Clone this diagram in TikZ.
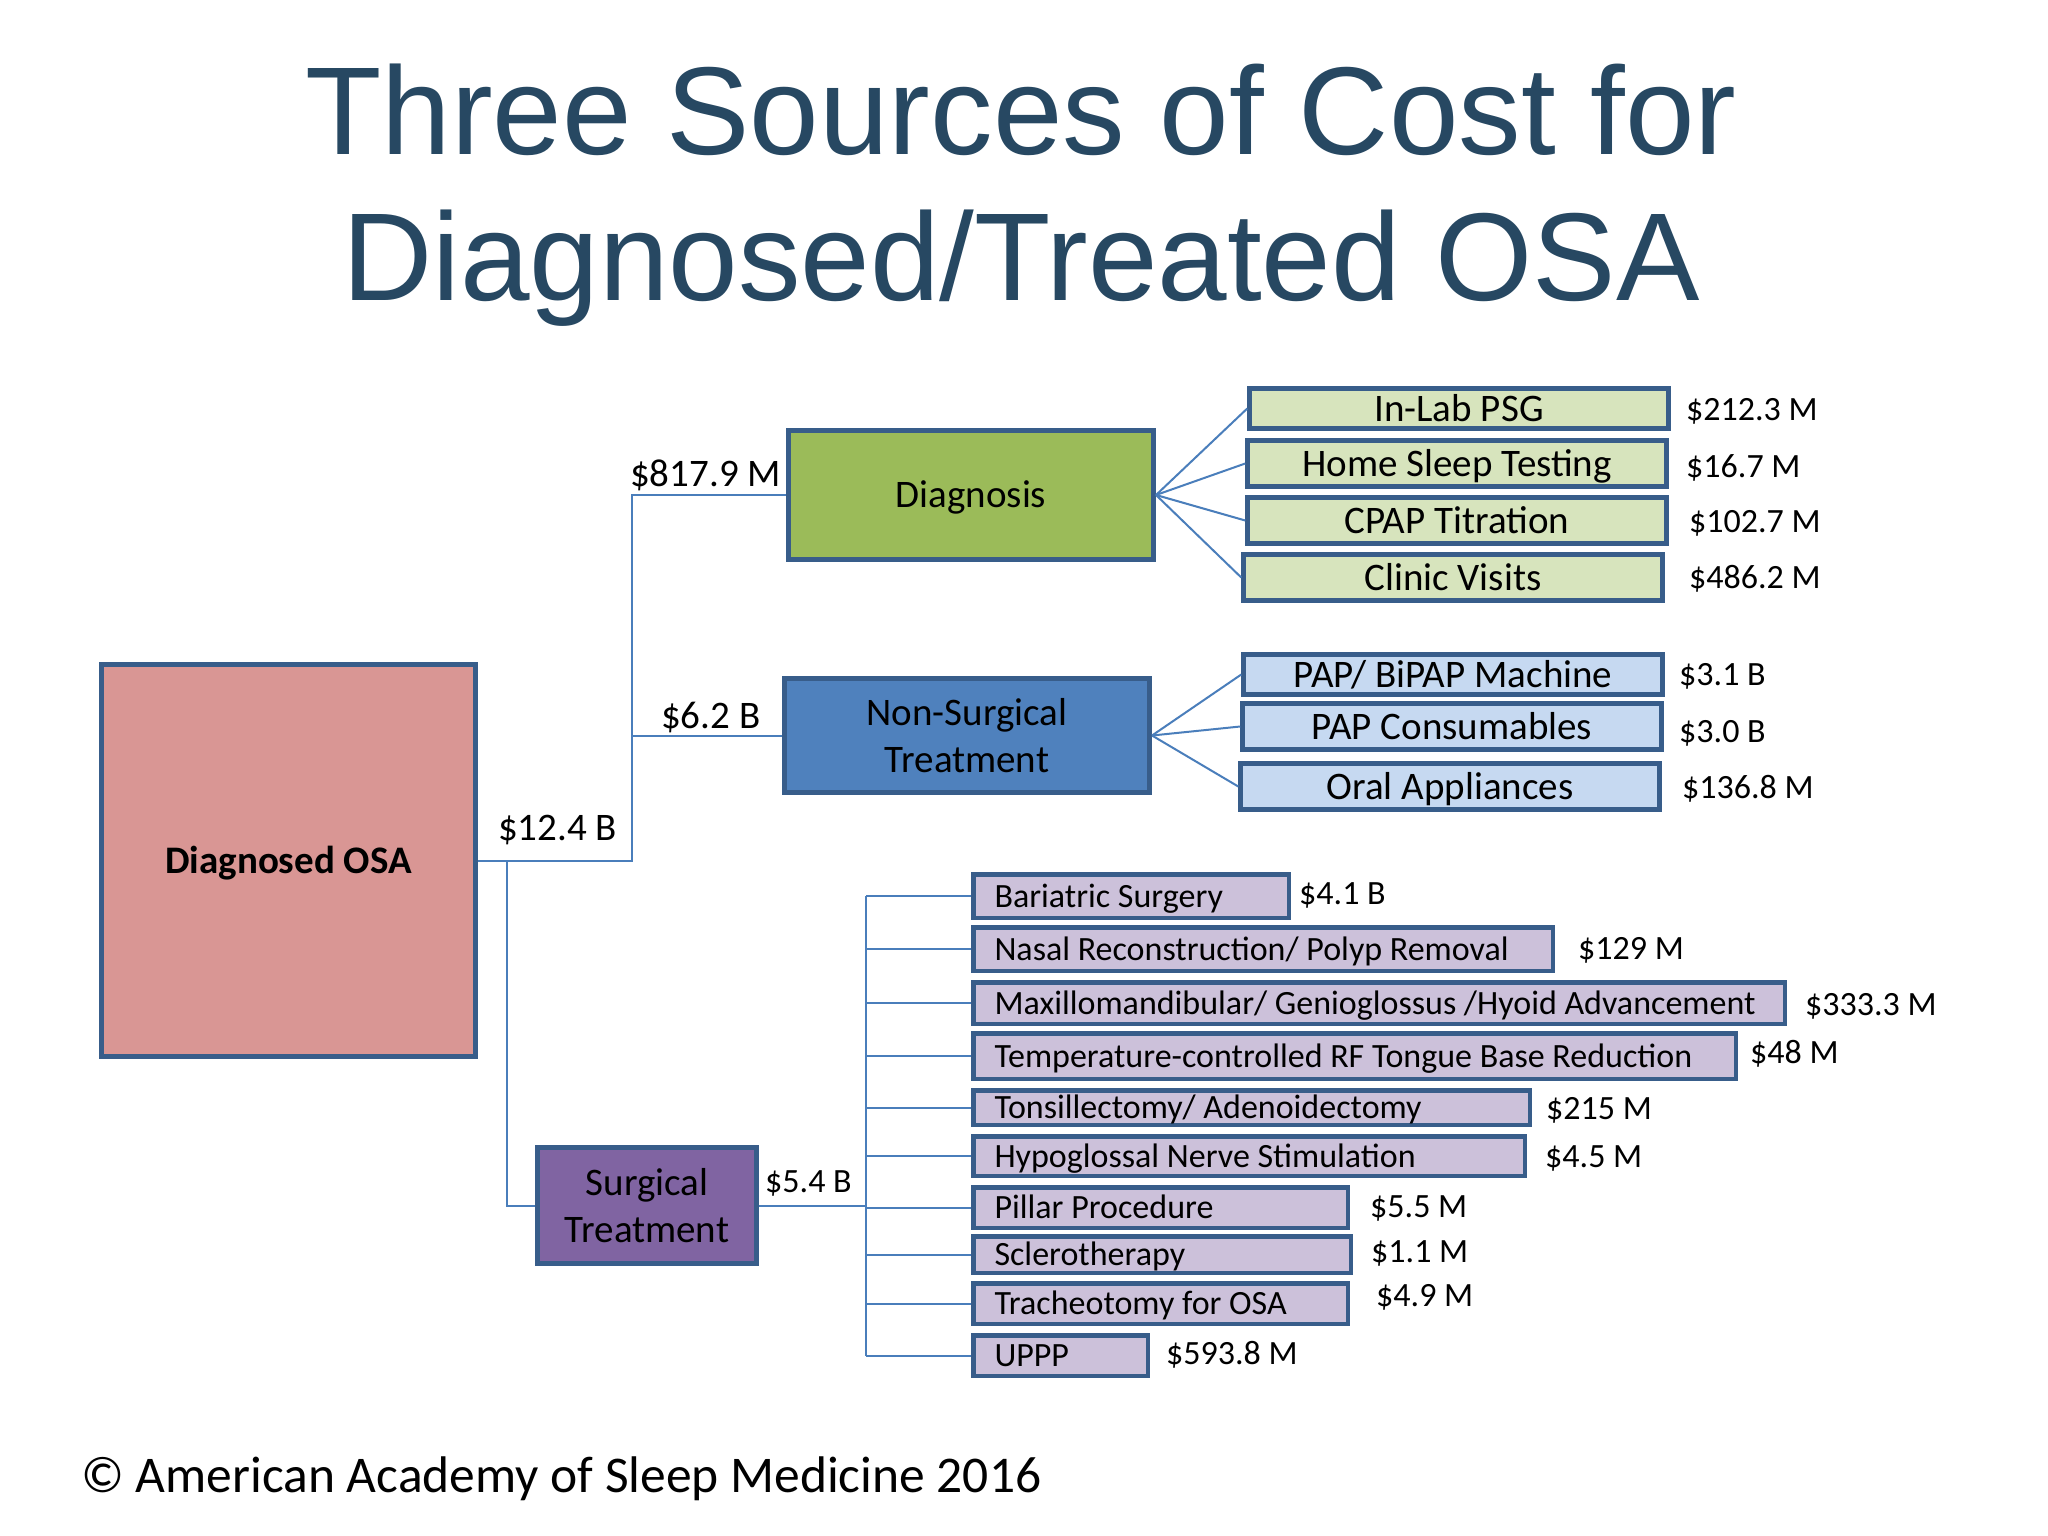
\documentclass[tikz,border=0pt]{standalone}
\usepackage{fontspec}
\setmainfont{Carlito}
\newfontfamily\titlefont{Liberation Sans}
\definecolor{bord}{RGB}{56,93,138}
\definecolor{connc}{RGB}{74,126,187}
\definecolor{titlec}{RGB}{39,72,98}
\definecolor{osafill}{RGB}{217,150,148}
\definecolor{diagfill}{RGB}{155,187,89}
\definecolor{nonsfill}{RGB}{79,129,189}
\definecolor{surgfill}{RGB}{128,100,162}
\definecolor{lgreen}{RGB}{215,228,189}
\definecolor{lblue}{RGB}{198,217,241}
\definecolor{lpurple}{RGB}{204,193,218}
\begin{document}
\begin{tikzpicture}[x=1pt,y=-1pt,
  box/.style={draw=bord, line width=5pt, inner sep=0pt, text=black},
  leaf/.style={draw=bord, line width=4.5pt, inner sep=0pt, text=black},
  fbig/.style={font=\fontsize{39}{47}\selectfont},
  fsmall/.style={font=\fontsize{34}{41}\selectfont},
  onebig/.style={text height=32pt, text depth=7pt},
  onesmall/.style={text height=28pt, text depth=6pt},
  conn/.style={draw=connc, line width=2pt},
  lab/.style={anchor=base west, inner sep=0pt, text=black}]
\useasboundingbox[fill=white] (0,0) rectangle (2048,1536);

% title
\node[anchor=base, inner sep=0pt, text=titlec, font=\titlefont\fontsize{125}{150}\selectfont] (t1) at (1021,154) {Three Sources of Cost for};
\node[anchor=base, inner sep=0pt, text=titlec, font=\titlefont\fontsize{125}{150}\selectfont] (t2) at (1021,300) {Diagnosed/Treated OSA};

% main boxes
\node[box, fill=osafill, minimum width=374pt, minimum height=392pt, onebig, font=\bfseries\fontsize{39}{47}\selectfont] (osa) at (288.5,860.5) {Diagnosed OSA};
\node[box, fill=diagfill, minimum width=365pt, minimum height=129pt, fbig, onebig] (diag) at (971,495) {Diagnosis};
\node[box, fill=nonsfill, minimum width=365pt, minimum height=114pt, fbig, align=center] (nons) at (967,735.5) {Non-Surgical\\Treatment};
\node[box, fill=surgfill, minimum width=219pt, minimum height=116pt, fbig, align=center] (surg) at (647,1205.5) {Surgical\\Treatment};

% diagnosis leaves
\node[leaf, fill=lgreen, minimum width=419pt, minimum height=40pt, fbig, onebig] (inlab) at (1459,408.5) {In-Lab PSG};
\node[leaf, fill=lgreen, minimum width=419pt, minimum height=46pt, fbig, onebig] (home) at (1457,463.5) {Home Sleep Testing};
\node[leaf, fill=lgreen, minimum width=419pt, minimum height=46pt, fbig, onebig] (cpap) at (1457,520.5) {CPAP Titration};
\node[leaf, fill=lgreen, minimum width=419pt, minimum height=46pt, fbig, onebig] (clinic) at (1453,577.5) {Clinic Visits};

% non-surgical leaves
\node[leaf, fill=lblue, minimum width=419pt, minimum height=40pt, fbig, onebig] (pap) at (1453,674.5) {PAP/ BiPAP Machine};
\node[leaf, fill=lblue, minimum width=419pt, minimum height=46pt, fbig, onebig] (cons) at (1452,726.5) {PAP Consumables};
\node[leaf, fill=lblue, minimum width=419pt, minimum height=46pt, fbig, onebig] (oral) at (1450,786.5) {Oral Appliances};

% surgical leaves
\node[leaf, fill=lpurple, minimum width=315.5pt, minimum height=43.5pt, fsmall, onesmall] (bari) at (1131,896) {\makebox[273pt][l]{Bariatric Surgery}};
\node[leaf, fill=lpurple, minimum width=579.5pt, minimum height=43.5pt, fsmall, onesmall] (nasal) at (1263,949) {\makebox[537pt][l]{Nasal Reconstruction/ Polyp Removal}};
\node[leaf, fill=lpurple, minimum width=811.5pt, minimum height=41.5pt, fsmall, onesmall] (maxi) at (1379,1003) {\makebox[769pt][l]{Maxillomandibular/ Genioglossus /Hyoid Advancement}};
\node[leaf, fill=lpurple, minimum width=762.5pt, minimum height=45.5pt, fsmall, onesmall] (temp) at (1354.5,1056) {\makebox[720pt][l]{Temperature-controlled RF Tongue Base Reduction}};
\node[leaf, fill=lpurple, minimum width=556.5pt, minimum height=34.5pt, fsmall, onesmall] (tons) at (1251.5,1107.5) {\makebox[514pt][l]{Tonsillectomy/ Adenoidectomy}};
\node[leaf, fill=lpurple, minimum width=551.5pt, minimum height=39.5pt, fsmall, onesmall] (hypo) at (1249,1156) {\makebox[509pt][l]{Hypoglossal Nerve Stimulation}};
\node[leaf, fill=lpurple, minimum width=374.5pt, minimum height=40.5pt, fsmall, onesmall] (pill) at (1160.5,1207.5) {\makebox[332pt][l]{Pillar Procedure}};
\node[leaf, fill=lpurple, minimum width=377.5pt, minimum height=36.5pt, fsmall, onesmall] (scle) at (1162,1254.5) {\makebox[335pt][l]{Sclerotherapy}};
\node[leaf, fill=lpurple, minimum width=374.5pt, minimum height=40.5pt, fsmall, onesmall] (trac) at (1160.5,1303.5) {\makebox[332pt][l]{Tracheotomy for OSA}};
\node[leaf, fill=lpurple, minimum width=174.5pt, minimum height=40.5pt, fsmall, onesmall] (uppp) at (1060.5,1355.5) {\makebox[132pt][l]{UPPP}};

% connectors
\coordinate (bx) at (632,0);
\coordinate (sx) at (507,0);
\coordinate (tx) at (866,0);
\draw[conn] (osa.east) -- (osa.east -| bx) |- (diag.west);
\draw[conn] (bx |- nons.west) -- (nons.west);
\draw[conn] (osa.east -| sx) |- (surg.west);
\draw[conn] (surg.east) -- (surg.east -| tx);
\draw[conn] (tx |- bari.west) -- (tx |- uppp.west);
\foreach \n in {bari,nasal,maxi,temp,tons,hypo,pill,scle,trac,uppp}
  \draw[conn] (tx |- \n.west) -- (\n.west);
\foreach \n in {inlab,home,cpap,clinic}
  \draw[conn] (diag.east) -- (\n.west);
\foreach \n in {pap,cons,oral}
  \draw[conn] (nons.east) -- (\n.west);

% branch labels
\node[lab, fbig] (l1) at (630,486.5) {\$817.9 M};
\node[lab, fbig] (l2) at (661,728) {\$6.2 B};
\node[lab, fbig] (l3) at (498,840) {\$12.4 B};
\node[lab, fsmall] (l4) at (765,1192) {\$5.4 B};

% diagnosis / non-surgical amounts
\node[lab, fsmall] (a1) at (1686,420) {\$212.3 M};
\node[lab, fsmall] (a2) at (1686,477) {\$16.7 M};
\node[lab, fsmall] (a3) at (1689,532) {\$102.7 M};
\node[lab, fsmall] (a4) at (1689,588) {\$486.2 M};
\node[lab, fsmall] (a5) at (1679,685) {\$3.1 B};
\node[lab, fsmall] (a6) at (1679,742) {\$3.0 B};
\node[lab, fsmall] (a7) at (1682,798) {\$136.8 M};

% surgical amounts
\node[lab, fsmall] (b1) at (1299,904) {\$4.1 B};
\node[lab, fsmall] (b2) at (1578,959) {\$129 M};
\node[lab, fsmall] (b3) at (1805,1015) {\$333.3 M};
\node[lab, fsmall] (b4) at (1750,1063.5) {\$48 M};
\node[lab, fsmall] (b5) at (1546,1119.5) {\$215 M};
\node[lab, fsmall] (b6) at (1545,1167) {\$4.5 M};
\node[lab, fsmall] (b7) at (1370,1217.5) {\$5.5 M};
\node[lab, fsmall] (b8) at (1371,1262) {\$1.1 M};
\node[lab, fsmall] (b9) at (1376,1306.5) {\$4.9 M};
\node[lab, fsmall] (b10) at (1166,1364) {\$593.8 M};

% footer
\node[lab, font=\fontsize{51.5}{62}\selectfont] (foot) at (81,1492) {© American Academy of Sleep Medicine 2016};
\end{tikzpicture}
\end{document}
